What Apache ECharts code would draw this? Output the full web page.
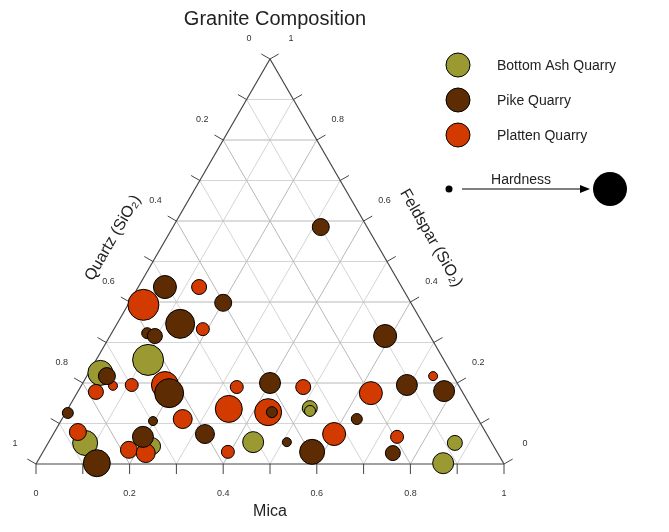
<!DOCTYPE html>
<html>
<head>
<meta charset="utf-8">
<script src="https://cdn.jsdelivr.net/npm/echarts@6/dist/echarts.min.js"></script>
<style>html,body{margin:0;padding:0;background:#fff}#main{width:669px;height:532px}</style>
</head>
<body>
<div id="main"></div>
<script>
// ternary values: mica (bottom axis), feldspar (right axis); quartz = 1 - mica - feldspar
var pikeMica     = [.316,.201,.057,.135,.076,.096,.043,.197,.005,.197,.324,.129,.195,.588,.400,.695,.782,.440,.630,.509,.575,.749];
var pikeFeldspar = [.585,.398,.437,.346,.323,.316,.217,.175,.126,.106,.074,.002,.067,.316,.200,.195,.180,.128,.111,.054,.030,.027];
var pikeHardness = [8,8,11,14,5,7,8,14,5,4,9,13,10,11,10,10,10,5,5,4,12,7];

var ashMica     = [.111,.025,.079,.226,.437,.516,.520,.869,.869];
var ashFeldspar = [.257,.225,.052,.044,.054,.138,.131,.052,.002];
var ashHardness = [15,12,12,8,10,7,5,7,10];

var plattenMica     = [.130,.033,.190,.068,.039,.107,.178,.334,.258,.344,.050,.181,.221,.395,.476,.628,.740,.432,.600,.738];
var plattenFeldspar = [.437,.393,.333,.193,.178,.195,.195,.190,.111,.136,.079,.035,.027,.030,.190,.175,.217,.128,.074,.067];
var plattenHardness = [7,15,6,4,7,6,13,6,9,13,8,8,9,6,7,11,4,13,11,6];

var tickLabels = ['0', '0.2', '0.4', '0.6', '0.8', '1'];

var W = 468, H = 405;
function xy(m, f) { return [m + f / 2, f]; }
function pts(mica, feld, hard) {
  return mica.map(function (m, i) { var p = xy(m, feld[i]); return [p[0], p[1], hard[i]]; });
}

// grid segments
var minor = [], major = [], ticks = [], labels = [];
for (var k = 0; k <= 10; k++) {
  var t = k / 10;
  if (k > 0 && k < 10) {
    var arr = (k % 2 === 0) ? major : minor;
    arr.push(xy(0, t).concat(xy(1 - t, t)));        // const feldspar
    arr.push(xy(t, 0).concat(xy(t, 1 - t)));        // const mica
    arr.push(xy(1 - t, 0).concat(xy(0, 1 - t)));    // const quartz
  }
  // ticks (pixel offsets converted to data units)
  var b = xy(t, 0), l = xy(0, 1 - t), r = xy(1 - t, t);
  ticks.push([b[0], b[1], b[0], b[1] - 10 / H]);
  ticks.push([l[0], l[1], l[0] - 8.7 / W, l[1] + 5 / H]);
  ticks.push([r[0], r[1], r[0] + 8.7 / W, r[1] + 5 / H]);
  if (k % 2 === 0) {
    var s = tickLabels[k / 2];
    labels.push([b[0], b[1], 0, -30, s]);
    labels.push([l[0], l[1], -21, 20, s]);
    labels.push([r[0], r[1], 21, 20, s]);
  }
}
var outline = [xy(0,0).concat(xy(1,0)), xy(1,0).concat(xy(0,1)), xy(0,1).concat(xy(0,0))];

function segSeries(data, color, width) {
  return {
    type: 'custom', silent: true, z: 1, data: data,
    renderItem: function (p, api) {
      var a = api.coord([api.value(0), api.value(1)]), c = api.coord([api.value(2), api.value(3)]);
      return { type: 'line', shape: { x1: a[0], y1: a[1], x2: c[0], y2: c[1] }, style: { stroke: color, lineWidth: width } };
    }
  };
}
function dots(name, data, color) {
  return {
    name: name, type: 'scatter', z: 5, data: data,
    symbolSize: function (v) { return v[2] * 2 + 1; },
    itemStyle: { color: color, borderColor: '#000', borderWidth: 1, opacity: 1 }
  };
}

var font = '"Liberation Sans", Arial, sans-serif';
var chart = echarts.init(document.getElementById('main'));
chart.setOption({
  animation: false,
  title: { text: 'Granite Composition', left: 270, top: 4, textAlign: 'center',
    textStyle: { fontFamily: font, fontSize: 20, fontWeight: 'normal', color: '#222' } },
  grid: { left: 36, top: 59, width: W, height: H },
  xAxis: { type: 'value', min: 0, max: 1, show: false },
  yAxis: { type: 'value', min: 0, max: 1, show: false },
  series: [
    segSeries(minor, '#d4d4d4', 1),
    segSeries(major, '#b8b8b8', 1),
    segSeries(ticks, '#444', 1),
    segSeries(outline, '#444', 1.2),
    {
      type: 'custom', silent: true, data: labels,
      renderItem: function (p, api) {
        var a = api.coord([api.value(0), api.value(1)]);
        return { type: 'text', x: a[0] + api.value(2), y: a[1] - api.value(3),
          style: { text: labels[p.dataIndex][4], fontSize: 9, fontFamily: font, fill: '#333', align: 'center', verticalAlign: 'middle' } };
      }
    },
    dots('Bottom Ash Quarry', pts(ashMica, ashFeldspar, ashHardness), '#9b9a32'),
    dots('Platten Quarry', pts(plattenMica, plattenFeldspar, plattenHardness), '#d23a00'),
    dots('Pike Quarry', pts(pikeMica, pikeFeldspar, pikeHardness), '#5e2c02')
  ],
  graphic: [
    { type: 'text', x: 270, y: 512, style: { text: 'Mica', fontSize: 16, fontFamily: font, fill: '#222', align: 'center', verticalAlign: 'middle' } },
    { type: 'text', x: 113, y: 238, rotation: Math.PI / 3, style: { text: 'Quartz (SiO\u2082)', fontSize: 16, fontFamily: font, fill: '#222', align: 'center', verticalAlign: 'middle' } },
    { type: 'text', x: 431, y: 238, rotation: -Math.PI / 3, style: { text: 'Feldspar (SiO\u2082)', fontSize: 16, fontFamily: font, fill: '#222', align: 'center', verticalAlign: 'middle' } },
    { type: 'circle', shape: { cx: 458, cy: 65, r: 12 }, style: { fill: '#9b9a32', stroke: '#000' } },
    { type: 'circle', shape: { cx: 458, cy: 100, r: 12 }, style: { fill: '#5e2c02', stroke: '#000' } },
    { type: 'circle', shape: { cx: 458, cy: 135, r: 12 }, style: { fill: '#d23a00', stroke: '#000' } },
    { type: 'text', x: 497, y: 66, style: { text: 'Bottom Ash Quarry', fontSize: 14, fontFamily: font, fill: '#222', verticalAlign: 'middle' } },
    { type: 'text', x: 497, y: 101, style: { text: 'Pike Quarry', fontSize: 14, fontFamily: font, fill: '#222', verticalAlign: 'middle' } },
    { type: 'text', x: 497, y: 136, style: { text: 'Platten Quarry', fontSize: 14, fontFamily: font, fill: '#222', verticalAlign: 'middle' } },
    { type: 'circle', shape: { cx: 449, cy: 189, r: 3.5 }, style: { fill: '#000' } },
    { type: 'line', shape: { x1: 462, y1: 189, x2: 588, y2: 189 }, style: { stroke: '#000', lineWidth: 1 } },
    { type: 'polygon', shape: { points: [[590, 189], [580, 185], [580, 193]] }, style: { fill: '#000' } },
    { type: 'text', x: 521, y: 180, style: { text: 'Hardness', fontSize: 14, fontFamily: font, fill: '#222', align: 'center', verticalAlign: 'middle' } },
    { type: 'circle', shape: { cx: 610, cy: 189, r: 17 }, style: { fill: '#000' } }
  ]
});
</script>
</body>
</html>
